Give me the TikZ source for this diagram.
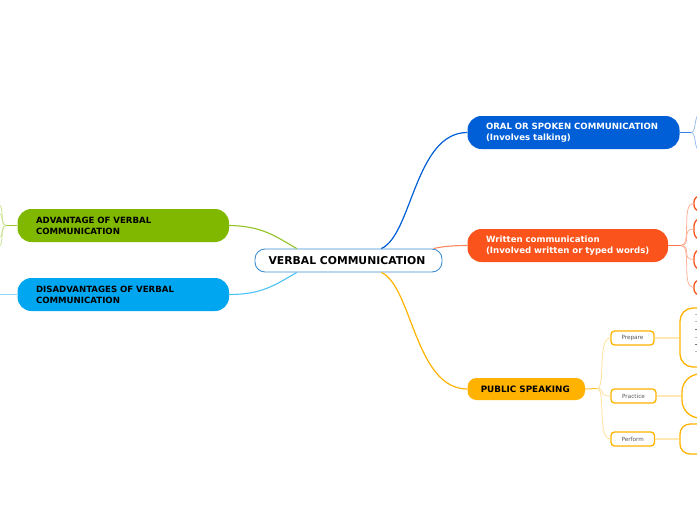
\documentclass[tikz,border=0pt]{standalone}
\usepackage{fontspec}
\setmainfont{DejaVu Sans}
\definecolor{oralblue}{HTML}{005FD7}
\definecolor{writtenred}{HTML}{FA541C}
\definecolor{publicamber}{HTML}{FFB300}
\definecolor{advgreen}{HTML}{80B800}
\definecolor{disblue}{HTML}{00A6EF}
\definecolor{rootblue}{HTML}{3F8FD2}
\tikzset{
mainbox/.style={rounded corners=14pt, inner xsep=18.5pt, inner ysep=0pt, minimum height=33pt, align=left, font=\fontsize{8.6}{11.2}\selectfont\bfseries},
subbox/.style={draw=publicamber, line width=1.3pt, rounded corners=3.5pt, fill=white, inner sep=0pt, minimum height=14pt, text=black!65, font=\fontsize{5.7}{6}\selectfont},
leafbox/.style={draw=#1, line width=1.3pt, fill=white, inner sep=0pt},
leafmark/.style={inner sep=0pt, text=#1, font=\fontsize{5}{6}\selectfont\bfseries}
}
\begin{document}
\begin{tikzpicture}[x=1pt, y=-1pt]
\useasboundingbox (0,0) rectangle (697,520);
\node[draw=rootblue, line width=.9pt, rounded corners=10pt, fill=white, minimum width=187pt, minimum height=23pt, inner sep=0pt, font=\fontsize{10.8}{11}\selectfont\bfseries] (root) at (348.5,260.5){VERBAL COMMUNICATION\kern3pt};
\node[mainbox, fill=oralblue, text=white, text width=175pt] (oral) at (573.5,132.5){ORAL OR SPOKEN COMMUNICATION\\(Involves talking)};
\node[mainbox, fill=writtenred, text=white, text width=163.5pt] (written) at (567.75,245.5){Written communication\\(Involved written or typed words)};
\node[mainbox, fill=publicamber, rounded corners=9pt, minimum height=22pt, inner xsep=0pt, minimum width=117.5pt, align=center, font=\fontsize{8.8}{11}\selectfont\bfseries] (public) at (526.25,389){PUBLIC SPEAKING\kern2pt};
\node[mainbox, fill=advgreen, text width=174.5pt] (advantage) at (123.25,225.5){ADVANTAGE OF VERBAL\\COMMUNICATION};
\node[mainbox, fill=disblue, text width=174.5pt] (disadvantage) at (123.25,294.5){DISADVANTAGES OF VERBAL\\COMMUNICATION};
\node[subbox, minimum width=43pt] (prepare) at (632.5,338){Prepare};
\node[subbox, minimum width=45pt] (practice) at (633.5,396){Practice};
\node[subbox, minimum width=43.5pt] (perform) at (632.75,439){Perform};
\node[leafbox=publicamber, rounded corners=13pt, minimum width=60pt, minimum height=59pt] (preparetext) at (710,337.5){};
\node[leafbox=publicamber, rounded corners=18pt, minimum width=60pt, minimum height=44pt] (practicetext) at (712,396){};
\node[leafbox=publicamber, rounded corners=10pt, minimum width=60pt, minimum height=30pt] (performtext) at (710,439){};
\foreach \y/\c in {316/gray,323/gray,331/black,339/gray,346/black,353/gray}
\node[leafmark=\c, anchor=east] at (697.5,\y){-};
\node[leafbox=writtenred, rounded corners=6pt, minimum width=30pt, minimum height=15pt] (writtenone) at (709,203.5){};
\node[leafbox=writtenred, rounded corners=8pt, minimum width=30pt, minimum height=22pt] (writtentwo) at (709,229){};
\node[leafbox=writtenred, rounded corners=8pt, minimum width=30pt, minimum height=21pt] (writtenthree) at (709,259.5){};
\node[leafbox=writtenred, rounded corners=6pt, minimum width=30pt, minimum height=15pt] (writtenfour) at (709,287.5){};
\coordinate (oralhub) at (691,132.5);
\coordinate (oralup) at (698,115);
\coordinate (oraldown) at (698,150);
\coordinate (writtenhub) at (681,245.5);
\coordinate (publichub) at (597,388.5);
\coordinate (advhub) at (6,225.5);
\coordinate (disend) at (0,294.5);
\draw[oralblue, line width=1.2pt] (root.20) .. controls (412,235) and (415,132.5) .. (oral.west);
\draw[writtenred!70, line width=1.1pt] (root.8.5) .. controls (440,247) and (450,245.5) .. (written.west);
\draw[publicamber, line width=1.2pt] (root.-20) .. controls (412,286) and (415,389) .. (public.west);
\draw[advgreen!85, line width=1.1pt] (root.167) .. controls (275,236) and (262,226) .. (advantage.east);
\draw[disblue!70, line width=1.1pt] (root.193) .. controls (275,285) and (262,294.5) .. (disadvantage.east);
\draw[oralblue!80, line width=1pt] (oral.east)--(oralhub);
\draw[oralblue!40, line width=.8pt] (oralhub) .. controls (696,132.5) and (694,120) .. (oralup);
\draw[oralblue!40, line width=.8pt] (oralhub) .. controls (696,132.5) and (694,145) .. (oraldown);
\draw[writtenred!80, line width=1pt] (written.east)--(writtenhub);
\foreach \n in {writtenone,writtentwo,writtenthree,writtenfour}
\draw[writtenred!45, line width=.8pt] (writtenhub) .. controls (692,245.5) and (writtenhub |- \n.west) .. (\n.west);
\draw[publicamber!80, line width=1pt] (public.east)--(publichub);
\foreach \n in {prepare,practice,perform}
\draw[publicamber!40, line width=.8pt] (publichub) .. controls (606,388.5) and (publichub |- \n.west) .. (\n.west);
\draw[publicamber!30, line width=1.4pt] (prepare.east)--(preparetext.west |- prepare.east);
\draw[publicamber!30, line width=1.4pt] (practice.east)--(practicetext.west);
\draw[publicamber!30, line width=1.4pt] (perform.east)--(performtext.west);
\draw[advgreen!80, line width=1pt] (advantage.west)--(advhub);
\foreach \y in {205,213,238,246}{
\coordinate (advend\y) at (-1,\y);
\draw[advgreen!40, line width=.8pt] (advhub) .. controls (0,225.5) and (4,\y) .. (advend\y);
}
\draw[disblue!45, line width=1pt] (disadvantage.west)--(disend);
\end{tikzpicture}
\end{document}
